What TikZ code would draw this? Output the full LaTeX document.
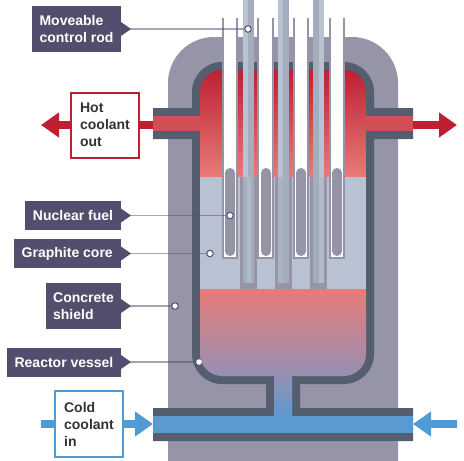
\documentclass[tikz,border=0pt]{standalone}
\usepackage{fontspec}
\setmainfont{Liberation Sans}
\usetikzlibrary{arrows.meta}
\definecolor{vsdark}{HTML}{545E6E}
\definecolor{vsconcrete}{HTML}{9695A7}
\definecolor{vsgraphite}{HTML}{B8C2D2}
\definecolor{vstag}{HTML}{514E6E}
\definecolor{vsred}{HTML}{BE2032}
\definecolor{vssalmon}{HTML}{E87B78}
\definecolor{vspipe}{HTML}{D34E55}
\definecolor{vsmauve}{HTML}{9490B3}
\definecolor{vsblue}{HTML}{5B9AD0}
\definecolor{vsarrow}{HTML}{4F9BD3}
\definecolor{vsrodlight}{HTML}{B8C2D0}
\definecolor{vsroddark}{HTML}{A3ADBB}
\begin{document}
\begin{tikzpicture}[
  x=1pt, y=-1pt,
  every node/.style={font=\fontsize{14}{17}\selectfont\bfseries},
  tagbox/.style={rectangle, fill=vstag, text=white, inner sep=0pt, align=left},
  tagdot/.style={circle, fill=white, draw=vstag, line width=1pt, minimum size=6.5pt, inner sep=0pt},
  leader/.style={draw=vstag, opacity=0.5, line width=1.5pt},
  flowbox/.style={rectangle, fill=white, line width=2pt, inner sep=0pt, align=left, text=black!80, minimum width=68pt, minimum height=65pt},
  flowhot/.style={vsred, line width=8pt, -{Triangle[length=18pt, width=24pt]}},
  flowcold/.style={vsarrow, line width=8pt, -{Triangle[length=18pt, width=24pt]}},
  flowtail/.style={line width=8pt},
]
\useasboundingbox (0,0) rectangle (464,461);

% Concrete shield
\fill[vsconcrete] (168,461) -- (168,83) arc[start angle=180, end angle=270, radius=46] -- (352,37) arc[start angle=270, end angle=360, radius=46] -- (398,461) -- cycle;

% Reactor vessel wall and pipes
\fill[vsdark] (192,108) -- (192,92) arc[start angle=180, end angle=270, radius=30] -- (344,62) arc[start angle=270, end angle=360, radius=30] -- (374,108) -- (413,108) -- (413,139) -- (374,139) -- (374,354) arc[start angle=0, end angle=90, radius=30] -- (300,384) -- (300,408) -- (413,408) -- (413,441) -- (153,441) -- (153,408) -- (266,408) -- (266,384) -- (222,384) arc[start angle=90, end angle=180, radius=30] -- (192,139) -- (153,139) -- (153,108) -- cycle;

% Coolant and graphite inside the vessel
\shade[top color=vsred, bottom color=vssalmon] (200,177) -- (200,92) arc[start angle=180, end angle=270, radius=22] -- (344,70) arc[start angle=270, end angle=360, radius=22] -- (366,177) -- cycle;
\fill[vspipe] (153,116) rectangle (200,131);
\fill[vspipe] (366,116) rectangle (413,131);
\fill[vsgraphite] (200,177) rectangle (366,289);
\shade[top color=vssalmon, bottom color=vsmauve] (200,289) -- (366,289) -- (366,354) arc[start angle=0, end angle=90, radius=22] -- (222,376) arc[start angle=90, end angle=180, radius=22] -- cycle;
\shade[top color=vsmauve, bottom color=vsblue] (274,376) rectangle (292,416);
\fill[vsblue] (153,416) rectangle (413,433);

% Fuel channels
\fill[vsconcrete] (222,18) rectangle (238,259);
\fill[vsconcrete] (257,18) rectangle (274,259);
\fill[vsconcrete] (293,18) rectangle (309,259);
\fill[vsconcrete] (329,18) rectangle (345,259);
\fill[white] (224,0) rectangle (236,257);
\fill[white] (259,0) rectangle (272,257);
\fill[white] (295,0) rectangle (307,257);
\fill[white] (331,0) rectangle (343,257);

% Fuel rods
\fill[vsconcrete, rounded corners=4.9pt] (225,168) rectangle (235,256);
\fill[vsconcrete, rounded corners=4.9pt] (261,168) rectangle (271,256);
\fill[vsconcrete, rounded corners=4.9pt] (296,168) rectangle (306,256);
\fill[vsconcrete, rounded corners=4.9pt] (332,168) rectangle (342,256);

% Control rods
\fill[vsconcrete] (240,177) rectangle (257,289);
\fill[vsconcrete] (275,177) rectangle (292,289);
\fill[vsconcrete] (310,177) rectangle (327,289);
\fill[vsroddark] (243,0) rectangle (254,283);
\fill[vsroddark] (278,0) rectangle (289,283);
\fill[vsroddark] (313,0) rectangle (324,283);
\fill[vsrodlight] (243,0) rectangle (248,177);
\fill[vsrodlight] (278,0) rectangle (283,177);
\fill[vsrodlight] (319,0) rectangle (324,177);
\fill[vsrodlight!60!vsroddark] (247,177) rectangle (251,283);
\fill[vsrodlight!30!vsroddark] (278,177) rectangle (283,283);
\fill[vsrodlight!60!vsroddark] (319,177) rectangle (324,283);

% Flow boxes and arrows
\node[flowbox, draw=vsred] (hotbox) at (105,125) {Hot\\coolant\\out};
\node[flowbox, draw=vsarrow, minimum height=66pt] (coldbox) at (89,424) {Cold\\coolant\\in};
\coordinate (hotleft) at (153,125);
\coordinate (hotright) at (413,125);
\coordinate (hotlefttip) at (41,125);
\coordinate (hotrighttip) at (457,125);
\coordinate (coldleft) at (41,424);
\coordinate (coldright) at (457,424);
\coordinate (coldlefttip) at (153,424);
\coordinate (coldrighttip) at (413,424);
\draw[flowtail, vsred] (hotleft) -- (hotbox.east);
\draw[flowhot] (hotbox.west) -- (hotlefttip);
\draw[flowhot] (hotright) -- (hotrighttip);
\draw[flowtail, vsarrow] (coldleft) -- (coldbox.west);
\draw[flowcold] (coldbox.east) -- (coldlefttip);
\draw[flowcold] (coldright) -- (coldrighttip);

% Labels
\node[tagbox, minimum width=89pt, minimum height=46pt] (rodtag) at (76.5,29) {Moveable\\control rod};
\node[tagbox, minimum width=96pt, minimum height=29pt] (fueltag) at (73,215.5) {Nuclear fuel};
\node[tagbox, minimum width=107.5pt, minimum height=29pt] (coretag) at (67.25,253.5) {Graphite core};
\node[tagbox, minimum width=75pt, minimum height=46pt] (shieldtag) at (83.5,306) {Concrete\\shield};
\node[tagbox, minimum width=114pt, minimum height=29pt] (vesseltag) at (64,362) {Reactor vessel};

\node[tagdot] (roddot) at (248,29) {};
\node[tagdot] (fueldot) at (230,215.5) {};
\node[tagdot] (coredot) at (210,253.5) {};
\node[tagdot] (shielddot) at (175,306) {};
\node[tagdot, draw=none, minimum size=5.5pt] (vesseldot) at (199,362) {};

\fill[vstag] (121,22) -- (131,29) -- (121,36) -- cycle;
\fill[vstag] (121,208.5) -- (131,215.5) -- (121,222.5) -- cycle;
\fill[vstag] (121,246.5) -- (131,253.5) -- (121,260.5) -- cycle;
\fill[vstag] (121,299) -- (131,306) -- (121,313) -- cycle;
\fill[vstag] (121,355) -- (131,362) -- (121,369) -- cycle;

\draw[leader] (rodtag.east) -- (roddot);
\draw[leader] (fueltag.east) -- (fueldot);
\draw[leader] (coretag.east) -- (coredot);
\draw[leader] (shieldtag.east) -- (shielddot);
\draw[leader] (vesseltag.east) -- (vesseldot);

\end{tikzpicture}
\end{document}
